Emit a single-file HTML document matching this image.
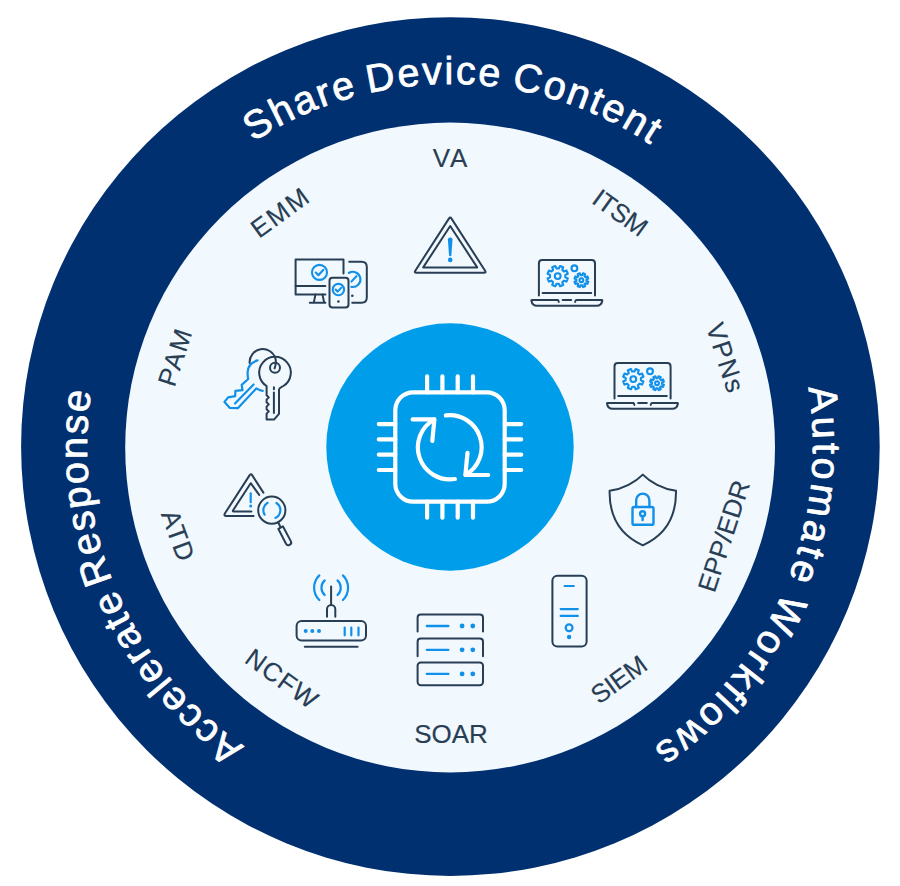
<!DOCTYPE html>
<html lang="en">
<head>
<meta charset="utf-8">
<title>Share Device Content, Automate Workflows, Accelerate Response</title>
<style>
html,body{margin:0;padding:0;background:#fff;}
body{width:900px;height:886px;overflow:hidden;}
svg{display:block;}
text{font-family:"Liberation Sans",sans-serif;}
.ring{font-size:39.5px;fill:#fff;stroke:#fff;stroke-width:0.8px;stroke-linejoin:round;}
.lab{font-size:26px;fill:#283e54;text-anchor:middle;stroke:#283e54;stroke-width:0.15px;}
.d{fill:none;stroke:#283e54;stroke-width:2.0;stroke-linecap:round;stroke-linejoin:round;}
.a{fill:none;stroke:#1190ea;stroke-width:2.1;stroke-linecap:round;stroke-linejoin:round;}
.chip{fill:none;stroke:#fff;stroke-width:4.2;stroke-linecap:round;stroke-linejoin:round;}
</style>
</head>
<body>
<svg width="900" height="886" viewBox="0 0 900 886">
<defs>
<path id="rp0" d="M134.53,626.58 A363.0,363.0 0 0 1 452.22,84.01 A363.0,363.0 0 0 1 763.25,630.42"/>
<path id="rp1" d="M407.33,86.52 A363.0,363.0 0 0 1 783.52,590.29 A363.0,363.0 0 0 1 159.14,664.19"/>
<path id="rp2" d="M741.23,663.68 A363.0,363.0 0 0 1 116.73,590.87 A363.0,363.0 0 0 1 492.04,86.44"/>
</defs>
<rect width="900" height="886" fill="#fff"/>
<circle cx="450.4" cy="446.6" r="429.3" fill="#00306f"/>
<circle cx="450.1" cy="447.5" r="324.9" fill="#f1f8fe"/>
<circle cx="450" cy="447" r="123.7" fill="#009eea"/>
<g id="ring-text">
<text class="ring" style="letter-spacing:2.1px;word-spacing:-3.0px" dx="1.05"><textPath href="#rp0" startOffset="50%" text-anchor="middle">Share Device Content</textPath></text>
<text class="ring" style="word-spacing:-3.0px" dx="1.50"><textPath href="#rp1" startOffset="50%" text-anchor="middle"><tspan style="letter-spacing:3.5px">Automate </tspan><tspan style="letter-spacing:3.0px">Workflows</tspan></textPath></text>
<text class="ring" style="letter-spacing:2.1px;word-spacing:-6.0px" dx="1.05"><textPath href="#rp2" startOffset="50%" text-anchor="middle">Accelerate Response</textPath></text>
</g>
<g id="labels">
<text class="lab" transform="translate(450.00,158.50) rotate(0)" x="1.00" y="8.94" style="letter-spacing:2.0px">VA</text>
<text class="lab" transform="translate(620.16,212.79) rotate(36)" x="-0.25" y="8.94" style="letter-spacing:-0.5px">ITSM</text>
<text class="lab" transform="translate(725.33,357.54) rotate(72)" x="0.75" y="8.94" style="letter-spacing:1.5px">VPNs</text>
<text class="lab" transform="translate(723.90,536.00) rotate(-72)" x="0.12" y="8.94" style="letter-spacing:0.25px">EPP/EDR</text>
<text class="lab" transform="translate(618.87,679.43) rotate(-36)" x="-0.25" y="8.94" style="letter-spacing:-0.5px">SIEM</text>
<text class="lab" transform="translate(451.00,734.40) rotate(0)" x="-0.05" y="8.94" style="letter-spacing:-0.1px">SOAR</text>
<text class="lab" transform="translate(281.72,678.62) rotate(36)" x="0.65" y="8.94" style="letter-spacing:1.3px">NCFW</text>
<text class="lab" transform="translate(178.00,535.38) rotate(70)" x="0.55" y="8.94" style="letter-spacing:1.1px">ATD</text>
<text class="lab" transform="translate(174.86,357.60) rotate(-72)" x="0.93" y="8.94" style="letter-spacing:1.85px">PAM</text>
<text class="lab" transform="translate(279.84,212.79) rotate(-36)" x="0.93" y="8.94" style="letter-spacing:1.85px">EMM</text>
</g>
<g id="icons">
<g class="d">
<path d="M448.9,218.6 Q450.2,216.6 451.5,218.6 L485.1,270.7 Q486.4,272.8 484,272.8 H416.4 Q414,272.8 415.3,270.7 Z"/>
<path d="M450.2,226 L477.2,267.4 H423.2 Z"/>
</g>
<path fill="#1190ea" d="M447.9,239.6 Q447.9,237.4 450.2,237.4 Q452.5,237.4 452.5,239.6 L451.4,255 Q451.3,256.2 450.2,256.2 Q449.1,256.2 449,255 Z"/>
<circle fill="#1190ea" cx="450.2" cy="259.9" r="2.3"/>
<g transform="translate(518,233)"><g class="d"><path d="M20.9,62.4 V30.4 Q20.9,27 24.3,27 H73.6 Q77,27 77,30.4 V62.4"/><path d="M24.6,60 H73.2"/><path d="M39.6,66.9 H14 Q13.2,66.9 13.4,67.8 Q14.3,72.8 19,72.8 H78.7 Q83.4,72.8 84.3,67.8 Q84.5,66.9 83.7,66.9 H58.6 Q57.6,66.9 57.4,67.9 L57.2,68.9"/><path d="M39.6,66.9 Q40.3,66.9 40.5,67.9 L40.7,68.9"/><path d="M44.6,66.9 H53.2"/></g><g class="a"><path d="M40.84,35.49 L42.05,32.97 L45.20,34.28 L44.27,36.91 L45.89,38.53 L48.52,37.60 L49.83,40.75 L47.31,41.96 L47.31,44.24 L49.83,45.45 L48.52,48.60 L45.89,47.67 L44.27,49.29 L45.20,51.92 L42.05,53.23 L40.84,50.71 L38.56,50.71 L37.35,53.23 L34.20,51.92 L35.13,49.29 L33.51,47.67 L30.88,48.60 L29.57,45.45 L32.09,44.24 L32.09,41.96 L29.57,40.75 L30.88,37.60 L33.51,38.53 L35.13,36.91 L34.20,34.28 L37.35,32.97 L38.56,35.49Z"/><circle cx="39.7" cy="43.1" r="2.9"/><path d="M64.16,42.16 L65.00,40.28 L67.16,41.18 L66.43,43.10 L67.50,44.17 L69.42,43.44 L70.32,45.60 L68.44,46.44 L68.44,47.96 L70.32,48.80 L69.42,50.96 L67.50,50.23 L66.43,51.30 L67.16,53.22 L65.00,54.12 L64.16,52.24 L62.64,52.24 L61.80,54.12 L59.64,53.22 L60.37,51.30 L59.30,50.23 L57.38,50.96 L56.48,48.80 L58.36,47.96 L58.36,46.44 L56.48,45.60 L57.38,43.44 L59.30,44.17 L60.37,43.10 L59.64,41.18 L61.80,40.28 L62.64,42.16Z"/><circle cx="63.4" cy="47.2" r="1.9"/><circle cx="56.4" cy="35.3" r="2.9"/></g></g>
<g transform="translate(593.6,336)"><g class="d"><path d="M20.9,62.4 V30.4 Q20.9,27 24.3,27 H73.6 Q77,27 77,30.4 V62.4"/><path d="M24.6,60 H73.2"/><path d="M39.6,66.9 H14 Q13.2,66.9 13.4,67.8 Q14.3,72.8 19,72.8 H78.7 Q83.4,72.8 84.3,67.8 Q84.5,66.9 83.7,66.9 H58.6 Q57.6,66.9 57.4,67.9 L57.2,68.9"/><path d="M39.6,66.9 Q40.3,66.9 40.5,67.9 L40.7,68.9"/><path d="M44.6,66.9 H53.2"/></g><g class="a"><path d="M40.84,35.49 L42.05,32.97 L45.20,34.28 L44.27,36.91 L45.89,38.53 L48.52,37.60 L49.83,40.75 L47.31,41.96 L47.31,44.24 L49.83,45.45 L48.52,48.60 L45.89,47.67 L44.27,49.29 L45.20,51.92 L42.05,53.23 L40.84,50.71 L38.56,50.71 L37.35,53.23 L34.20,51.92 L35.13,49.29 L33.51,47.67 L30.88,48.60 L29.57,45.45 L32.09,44.24 L32.09,41.96 L29.57,40.75 L30.88,37.60 L33.51,38.53 L35.13,36.91 L34.20,34.28 L37.35,32.97 L38.56,35.49Z"/><circle cx="39.7" cy="43.1" r="2.9"/><path d="M64.16,42.16 L65.00,40.28 L67.16,41.18 L66.43,43.10 L67.50,44.17 L69.42,43.44 L70.32,45.60 L68.44,46.44 L68.44,47.96 L70.32,48.80 L69.42,50.96 L67.50,50.23 L66.43,51.30 L67.16,53.22 L65.00,54.12 L64.16,52.24 L62.64,52.24 L61.80,54.12 L59.64,53.22 L60.37,51.30 L59.30,50.23 L57.38,50.96 L56.48,48.80 L58.36,47.96 L58.36,46.44 L56.48,45.60 L57.38,43.44 L59.30,44.17 L60.37,43.10 L59.64,41.18 L61.80,40.28 L62.64,42.16Z"/><circle cx="63.4" cy="47.2" r="1.9"/><circle cx="56.4" cy="35.3" r="2.9"/></g></g>
<g transform="translate(590,458)">
<path class="d" d="M52.8,16.6 C45.5,24 33,31 19.6,32.8 C19.2,58 30,77 52.8,87.3 C75.6,77 86.4,58 86,32.8 C72.6,31 60.1,24 52.8,16.6 Z"/>
<g class="a" style="stroke-width:2.4">
<rect x="42.5" y="49" width="21" height="17.8" rx="1.6"/>
<path d="M46.2,49 V42.2 A6.6,6.6 0 0 1 59.4,42.2 V49"/>
<circle cx="52.6" cy="55.8" r="2.5"/>
<path d="M52.6,58.4 V62"/>
</g></g>
<g transform="translate(517,560)">
<rect class="d" x="35.4" y="15.8" width="34.2" height="70.6" rx="5"/>
<g class="a" style="stroke-width:2.2">
<path d="M47.6,26 H56.8 M43.7,49.1 H60.8 M43.7,55.9 H60.8"/>
<circle cx="52.1" cy="67.7" r="3.4"/>
<circle cx="52.1" cy="77" r="1.1" fill="#1190ea"/>
</g></g>
<g transform="translate(400,600)">
<g class="d">
<path d="M17.6,31.4 V17.6 Q17.6,14.4 20.8,14.4 H79.8 Q83,14.4 83,17.6 V31.4"/>
<path d="M17.6,56.2 V41.7 Q17.6,38.5 20.8,38.5 H79.8 Q83,38.5 83,41.7 V56.2"/>
<rect x="17.6" y="62.4" width="65.4" height="22.8" rx="3.2"/>
</g>
<g class="a" style="stroke-width:2.3">
<path d="M26.8,26 H48.4 M26.8,49.8 H48.4 M26.8,73.9 H48.4"/>
</g>
<g fill="#1190ea">
<circle cx="62.1" cy="26" r="2.4"/><circle cx="72.8" cy="26" r="2.4"/>
<circle cx="62.1" cy="49.8" r="2.4"/><circle cx="72.8" cy="49.8" r="2.4"/>
<circle cx="62.1" cy="73.9" r="2.4"/><circle cx="72.8" cy="73.9" r="2.4"/>
</g></g>
<g transform="translate(282,560)">
<g class="d">
<rect x="14.6" y="61.1" width="69.4" height="19.3" rx="5"/>
<path d="M22.8,86.7 H75.6"/>
<path d="M49.1,26.4 V45"/>
<path d="M45,56.8 V49.2 A4.1,4.1 0 0 1 53.3,49.2 V56.8"/>
</g>
<g class="a" style="stroke-width:2.2">
<path d="M42.7,20.4 A9.8,9.8 0 0 0 42.7,35"/>
<path d="M55.5,20.4 A9.8,9.8 0 0 1 55.5,35"/>
<path d="M37.3,15.4 A17.2,17.2 0 0 0 37.3,40"/>
<path d="M60.9,15.4 A17.2,17.2 0 0 1 60.9,40"/>
<path d="M62.7,67.6 V75.3 M69.3,67.6 V75.3 M76.5,67.6 V75.3"/>
</g>
<g fill="#1190ea"><circle cx="23.7" cy="71.1" r="2"/><circle cx="30.3" cy="71.1" r="2"/><circle cx="37" cy="71.1" r="2"/></g>
</g>
<g transform="translate(208,460)">
<g class="d">
<path d="M45.6,55.9 H18.4 Q15.4,55.9 17,53.3 L41.5,15.4 Q42.9,13.3 44.3,15.4 L55.4,32.6"/>
<path d="M43.4,51.4 H25.6 Q24.4,51.4 25.1,50.3 L42.7,23.2 L51.2,34.9"/>
<circle cx="63.8" cy="50.2" r="13.6"/>
<path d="M70.2,62.3 L72.6,67.4"/>
<path d="M70.3,68.8 L74.9,66.3 L82.8,81.1 A2.7,2.7 0 0 1 78,83.7 Z"/>
</g>
<g class="a" style="stroke-width:2.2">
<path d="M42.7,33.3 V42.2"/>
<path d="M59.6,42.8 A8.5,8.5 0 0 0 56.6,54.6"/>
<path d="M68.4,43 A8.5,8.5 0 0 1 67.4,57.9"/>
</g>
<circle cx="42.7" cy="46" r="1.5" fill="#1190ea"/>
</g>
<g transform="translate(205,335)">
<g class="a" style="stroke-width:2.2">
<path d="M52.5,25.4 C46,27.6 42.4,32.4 42.6,38 C42.6,40.4 42.8,42.4 43.2,44 L36.7,49.9 L37.5,55.2 L30.4,55.8 L30.2,61.2 L23.1,62.4 L19.5,66.9 L24.9,73 L32.8,73.2 L51.3,53.4 C53.4,54.8 55.6,55.6 57.7,55.8"/>
<path d="M30,68.5 L48.6,49.5"/>
</g>
<g class="d">
<path d="M44.6,28 A13.2,13.2 0 0 1 70.4,23.4 C71.6,27 70.6,30.4 69.6,33.4"/>
<circle cx="70" cy="32.8" r="5"/>
<path d="M61.6,51 A15.8,15.8 0 1 1 78.4,51 C75.6,52.6 74,53.2 74,54.6 V78.8 L69,84.6 H61.6 V78.6 L63.8,76.4 L61.6,74.2 V71.6 L63.8,69.4 L61.6,67.2 V64.6 L63.8,62.4 L61.6,60.2 Z"/>
<path d="M68.9,52.2 V54.2 M68.9,57.6 V78"/>
</g>
</g>
<g transform="translate(282,232)">
<g class="d">
<path d="M61.5,41.4 V27.5 H13.6 V62.4 H43.4"/>
<path d="M13.6,54 H43.4"/>
<path d="M33.4,62.6 L31.8,70.6 M40.5,62.6 L42.2,70.6 M27.8,70.8 H43.4"/>
<rect x="47.5" y="45.8" width="19" height="29.6" rx="3"/>
<path d="M67.2,29.8 H79.6 Q84.8,29.8 84.8,35 V65.6 Q84.8,70.8 79.6,70.8 H70.2"/>
</g>
<g fill="#283e54"><circle cx="56.4" cy="69.5" r="1.3"/><circle cx="70.3" cy="63.8" r="1.3"/></g>
<g class="a" style="stroke-width:2.1">
<circle cx="37.5" cy="40.4" r="7.5"/>
<path d="M33.8,40.6 L36.4,43.2 L41.4,37.8"/>
<circle cx="56.4" cy="57.6" r="5.7"/>
<path d="M53.6,57.6 L55.6,59.6 L59.4,55.6"/>
<path d="M66.8,41 A7.6,7.6 0 1 1 69.4,54.9"/>
<path d="M69.4,49.6 L74.4,44.2"/>
</g>
</g>
</g>
<g id="chip" class="chip">
<rect x="395.3" y="392.3" width="109.4" height="109.4" rx="18"/>
<path d="M427.1,376.3 V392.3 M427.1,501.7 V517.7"/>
<path d="M378.8,424.1 H395.3 M504.7,424.1 H521.2"/>
<path d="M442.4,376.3 V392.3 M442.4,501.7 V517.7"/>
<path d="M378.8,439.4 H395.3 M504.7,439.4 H521.2"/>
<path d="M457.7,376.3 V392.3 M457.7,501.7 V517.7"/>
<path d="M378.8,454.7 H395.3 M504.7,454.7 H521.2"/>
<path d="M473.0,376.3 V392.3 M473.0,501.7 V517.7"/>
<path d="M378.8,470.0 H395.3 M504.7,470.0 H521.2"/>
<path d="M412.6,419.4 H434.4 L432.3,441"/>
<path d="M434.2,419.5 A32,32 0 0 0 454.9,479"/>
<path d="M488.2,475 H465.4 L467.5,452.8"/>
<path d="M445.8,415.4 A32,32 0 0 1 465.6,474.9"/>
</g>
</svg>
</body>
</html>
